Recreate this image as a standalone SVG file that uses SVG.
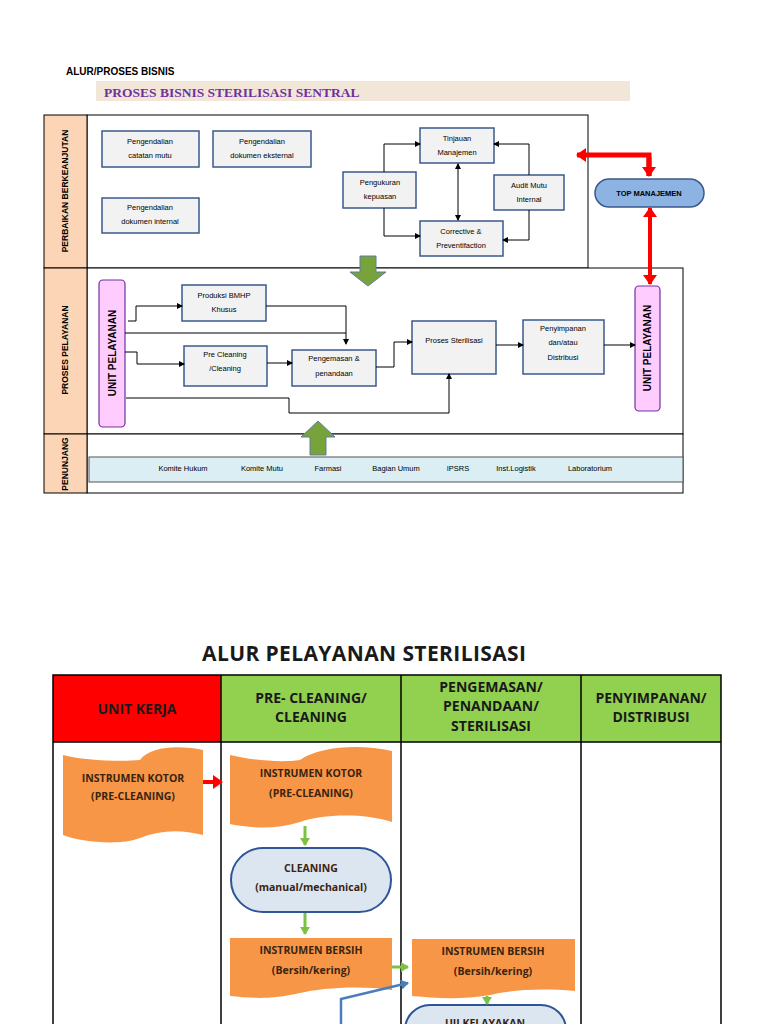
<svg xmlns="http://www.w3.org/2000/svg" width="768" height="1024" viewBox="0 0 768 1024">
<defs>
<marker id="ah" markerWidth="6" markerHeight="6" refX="5" refY="3" orient="auto" markerUnits="userSpaceOnUse"><path d="M0,0 L6,3 L0,6 Z" fill="#000"/></marker>
<marker id="ahs" markerWidth="6" markerHeight="6" refX="1" refY="3" orient="auto" markerUnits="userSpaceOnUse"><path d="M6,0 L0,3 L6,6 Z" fill="#000"/></marker>
<marker id="rh" markerWidth="14" markerHeight="14" refX="9" refY="7" orient="auto" markerUnits="userSpaceOnUse"><path d="M0,0 L10,7 L0,14 Z" fill="#ff0000"/></marker>
<marker id="gh" markerWidth="10" markerHeight="10" refX="7" refY="5" orient="auto" markerUnits="userSpaceOnUse"><path d="M0,0 L8,5 L0,10 Z" fill="#7dc142"/></marker>
<marker id="bh" markerWidth="10" markerHeight="10" refX="7" refY="5" orient="auto" markerUnits="userSpaceOnUse"><path d="M0,0 L8,5 L0,10 Z" fill="#4a7ebb"/></marker>
</defs>
<style>
.box{fill:#f2f2f2;stroke:#3a5a8c;stroke-width:1.5}
.t{font-family:"Liberation Sans",Arial,sans-serif;font-size:7.5px;fill:#000;text-anchor:middle}
.lane{fill:#fbd5b5;stroke:#000;stroke-width:1}
.frame{fill:#fff;stroke:#000;stroke-width:1}
.c{fill:none;stroke:#000;stroke-width:1}
.unit{fill:#ffccff;stroke:#7030a0;stroke-width:1.2}
.ut{font-family:"Liberation Sans",Arial,sans-serif;font-size:10px;font-weight:bold;text-anchor:middle}
.lt{font-family:"Liberation Sans",Arial,sans-serif;font-size:8.5px;font-weight:bold;text-anchor:middle}
.hd{font-family:"Open Sans","Liberation Sans",sans-serif;font-size:14px;font-weight:bold;text-anchor:middle;fill:#1a1a1a}
.or{fill:#f79646}
.ot{font-family:"Open Sans","Liberation Sans",sans-serif;font-size:10.5px;font-weight:bold;text-anchor:middle;fill:#3a2410}
.pill{fill:#dce6f1;stroke:#2f5597;stroke-width:2}
.grid{stroke:#000;stroke-width:1.5;fill:none}
.ga{stroke:#7dc142;stroke-width:3;fill:none}
</style>
<rect width="768" height="1024" fill="#fff"/>
<text x="66" y="75" font-family="Liberation Sans,Arial,sans-serif" font-size="10" font-weight="bold">ALUR/PROSES BISNIS</text>
<rect x="96" y="81" width="534" height="20" fill="#f2e6d9"/>
<text x="104" y="97" font-family="Liberation Serif,serif" font-size="13.5" font-weight="bold" fill="#7030a0">PROSES BISNIS STERILISASI SENTRAL</text>

<g id="lanes">
<rect class="frame" x="87" y="115" width="501" height="153"/>
<rect class="frame" x="87" y="268" width="596" height="166"/>
<rect class="frame" x="87" y="434" width="596" height="59"/>
<rect class="lane" x="44" y="115" width="43" height="153"/>
<rect class="lane" x="44" y="268" width="43" height="166"/>
<rect class="lane" x="44" y="434" width="43" height="59"/>
<text class="lt" transform="translate(68,191) rotate(-90)">PERBAIKAN BERKEANJUTAN</text>
<text class="lt" transform="translate(68,350) rotate(-90)">PROSES PELAYANAN</text>
<text class="lt" transform="translate(68,464) rotate(-90)">PENUNJANG</text>
</g>

<g id="nodes">
<g id="n1"><rect class="box" x="102" y="131" width="97" height="36"/><text class="t" x="150" y="144">Pengendalian</text><text class="t" x="150" y="158">catatan mutu</text></g>
<g id="n2"><rect class="box" x="213" y="131" width="98" height="36"/><text class="t" x="262" y="144">Pengendalian</text><text class="t" x="262" y="158">dokumen eksternal</text></g>
<g id="n3"><rect class="box" x="102" y="198" width="97" height="35"/><text class="t" x="150" y="210">Pengendalian</text><text class="t" x="150" y="224">dokumen internal</text></g>
<g id="n4"><rect class="box" x="420" y="128" width="74" height="35"/><text class="t" x="457" y="141">Tinjauan</text><text class="t" x="457" y="155">Manajemen</text></g>
<g id="n5"><rect class="box" x="343" y="172" width="73" height="36"/><text class="t" x="380" y="185">Pengukuran</text><text class="t" x="380" y="199">kepuasan</text></g>
<g id="n6"><rect class="box" x="494" y="175" width="70" height="35"/><text class="t" x="529" y="188">Audit Mutu</text><text class="t" x="529" y="202">Internal</text></g>
<g id="n7"><rect class="box" x="420" y="221" width="83" height="35"/><text class="t" x="461" y="234">Corrective &amp;</text><text class="t" x="461" y="248">Preventifaction</text></g>
<g id="n8"><rect x="595" y="179" width="109" height="28" rx="14" fill="#8db3e2" stroke="#3a5a8c" stroke-width="1.5"/><text class="t" x="649" y="196" font-weight="bold">TOP MANAJEMEN</text></g>
<g id="n9"><rect class="unit" x="99" y="280" width="26" height="147" rx="4"/><text class="ut" transform="translate(116,353) rotate(-90)">UNIT PELAYANAN</text></g>
<g id="n10"><rect class="box" x="182" y="285" width="84" height="36"/><text class="t" x="224" y="298">Produksi BMHP</text><text class="t" x="224" y="312">Khusus</text></g>
<g id="n11"><rect class="box" x="184" y="346" width="83" height="40"/><text class="t" x="225" y="357">Pre Cleaning</text><text class="t" x="225" y="371">/Cleaning</text></g>
<g id="n12"><rect class="box" x="292" y="350" width="84" height="36"/><text class="t" x="334" y="361">Pengemasan &amp;</text><text class="t" x="334" y="376">penandaan</text></g>
<g id="n13"><rect class="box" x="412" y="321" width="84" height="53"/><text class="t" x="454" y="343">Proses Sterilisasi</text></g>
<g id="n14"><rect class="box" x="523" y="320" width="81" height="54"/><text class="t" x="563" y="331">Penyimpanan</text><text class="t" x="563" y="345">dan/atau</text><text class="t" x="563" y="360">Distribusi</text></g>
<g id="n15"><rect class="unit" x="635" y="286" width="25" height="125" rx="4"/><text class="ut" transform="translate(651,348) rotate(-90)">UNIT PELAYANAN</text></g>
<g id="n16"><rect x="89" y="457" width="594" height="25" fill="#daeef3" stroke="#555" stroke-width="1"/>
<text class="t" x="183" y="471" font-size="7">Komite Hukum</text><text class="t" x="262" y="471" font-size="7">Komite Mutu</text><text class="t" x="328" y="471" font-size="7">Farmasi</text><text class="t" x="396" y="471" font-size="7">Bagian Umum</text><text class="t" x="458" y="471" font-size="7">IPSRS</text><text class="t" x="516" y="471" font-size="7">Inst.Logistik</text><text class="t" x="590" y="471" font-size="7">Laboratorium</text></g>
</g>

<g id="connectors">
<path class="c" d="M384,172 V144 H420" marker-end="url(#ah)"/>
<path class="c" d="M384,208 V236 H420" marker-end="url(#ah)"/>
<path class="c" d="M529,175 V144 H494" marker-end="url(#ah)"/>
<path class="c" d="M529,210 V240 H503" marker-end="url(#ah)"/>
<path class="c" d="M458,164 V220" marker-start="url(#ahs)" marker-end="url(#ah)"/>
<path d="M649,176 V155 H577" fill="none" stroke="#ff0000" stroke-width="5" marker-end="url(#rh)"/>
<path d="M649,157 V176" fill="none" stroke="#ff0000" stroke-width="5" marker-end="url(#rh)"/>
<path d="M650,226 V284" fill="none" stroke="#ff0000" stroke-width="4" marker-end="url(#rh)"/>
<path d="M650,265 V208" fill="none" stroke="#ff0000" stroke-width="4" marker-end="url(#rh)"/>
<path d="M360,256 H376 V272 H386 L368,286 L350,272 H360 Z" fill="#77a33a" stroke="#5b7fa6" stroke-width="1"/>
<path d="M310,455 H326 V437 H335 L318,421 L301,437 H310 Z" fill="#77a33a" stroke="#5b7fa6" stroke-width="1"/>
<path class="c" d="M128,321 H136 V306 H182" marker-end="url(#ah)"/>
<path class="c" d="M125,333 H346"/>
<path class="c" d="M266,306 H346 V344" marker-end="url(#ah)"/>
<path class="c" d="M125,352 H137 V364 H184" marker-end="url(#ah)"/>
<path class="c" d="M267,363 H292" marker-end="url(#ah)"/>
<path class="c" d="M376,367 H394 V342 H412" marker-end="url(#ah)"/>
<path class="c" d="M496,345 H523" marker-end="url(#ah)"/>
<path class="c" d="M604,345 H635" marker-end="url(#ah)"/>
<path class="c" d="M126,398 H289 V413 H449 V374" marker-end="url(#ah)"/>
</g>

<text x="364" y="661" font-family="Open Sans,Liberation Sans,sans-serif" font-size="21" font-weight="bold" text-anchor="middle" fill="#1a1a1a" textLength="324">ALUR PELAYANAN STERILISASI</text>
<g id="table">
<rect x="53" y="675" width="168" height="67" fill="#ff0000"/>
<rect x="221" y="675" width="500" height="67" fill="#92d050"/>
<path class="grid" d="M53,1024 V675 H721 V1024 M53,742 H721 M221,675 V1024 M401,675 V1024 M581,675 V1024"/>
<text class="hd" x="137" y="714">UNIT KERJA</text>
<text class="hd" x="311" y="703">PRE- CLEANING/</text><text class="hd" x="311" y="722">CLEANING</text>
<text class="hd" x="491" y="692">PENGEMASAN/</text><text class="hd" x="491" y="711">PENANDAAN/</text><text class="hd" x="491" y="731">STERILISASI</text>
<text class="hd" x="651" y="703">PENYIMPANAN/</text><text class="hd" x="651" y="722">DISTRIBUSI</text>
</g>
<g id="b1"><path class="or" d="M63,755 C80,760 120,762 140,760 C150,746 180,745 203,750 V835 C180,829 160,830 140,838 C120,846 80,842 63,835 Z"/><text class="ot" x="133" y="782">INSTRUMEN KOTOR</text><text class="ot" x="133" y="800">(PRE-CLEANING)</text></g>
<g id="b2"><path class="or" d="M230,755 C250,760 280,763 300,760 C320,746 360,744 392,751 V822 C360,812 320,815 300,822 C275,830 250,828 230,824 Z"/><text class="ot" x="311" y="777">INSTRUMEN KOTOR</text><text class="ot" x="311" y="797">(PRE-CLEANING)</text></g>
<g id="b3"><rect class="pill" x="231" y="848" width="160" height="64" rx="32"/><text class="ot" x="311" y="872" fill="#222">CLEANING</text><text class="ot" x="311" y="891" fill="#222" font-size="9.5">(manual/mechanical)</text></g>
<g id="b4"><path class="or" d="M230,938 H392 V990 C360,985 320,988 300,993 C270,1000 250,998 230,996 Z"/><text class="ot" x="311" y="954">INSTRUMEN BERSIH</text><text class="ot" x="311" y="974">(Bersih/kering)</text></g>
<g id="b5"><path class="or" d="M412,939 H575 V991 C540,988 510,990 490,995 C460,1000 435,998 412,996 Z"/><text class="ot" x="493" y="955">INSTRUMEN BERSIH</text><text class="ot" x="493" y="975">(Bersih/kering)</text></g>
<g id="b6"><rect class="pill" x="405" y="1005" width="161" height="50" rx="25"/><text class="ot" x="485" y="1027" fill="#222">UJI KELAYAKAN</text></g>
<g id="flow">
<path d="M203,782 H222" stroke="#ff0000" stroke-width="4" fill="none" marker-end="url(#rh)"/>
<path class="ga" d="M305,826 V845" marker-end="url(#gh)"/>
<path class="ga" d="M305,913 V934" marker-end="url(#gh)"/>
<path class="ga" d="M392,967 H408" marker-end="url(#gh)"/>
<path class="ga" d="M487,996 V1004" marker-end="url(#gh)"/>
<path d="M341,1024 V999 L408,983" stroke="#4a7ebb" stroke-width="2.5" fill="none" marker-end="url(#bh)"/>
</g>
</svg>
